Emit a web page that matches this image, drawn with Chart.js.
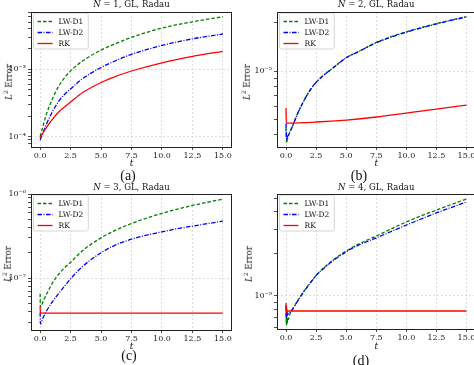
<!DOCTYPE html>
<html>
<head>
<meta charset="utf-8">
<script src="https://cdn.jsdelivr.net/npm/chart.js@4.4.1/dist/chart.umd.min.js"></script>
<style>
  body { margin: 0; width: 474px; height: 365px; overflow: hidden; background: #fff; position: relative; font-family: 'DejaVu Serif', serif; color: #111; }
  canvas { position: absolute; }
  .txt { position: absolute; white-space: nowrap; transform: translate(-50%, -50%); line-height: 1; }
  .ttl { font-size: 8.5px; }
  .xl { font-size: 9px; font-style: italic; }
  .yl { font-size: 8.5px; transform: translate(-50%, -50%) rotate(-90deg); }
  .yl sup { font-size: 6px; }
  .cap { font-family: 'Liberation Serif', serif; font-size: 14px; }
</style>
</head>
<body>
<script>
// valeurs (erreur L2 vs t)
const LABELS = ['LW-D1', 'LW-D2', 'RK'];
const X_TICKS = [0, 2.5, 5, 7.5, 10, 12.5, 15];

// (a) N = 1
const tA = [0, 0.25, 0.5, 1, 1.5, 2, 2.5, 3.5, 5, 6, 7.5, 10, 12.5, 15];
const a_lw1 = [1.0e-4, 1.45e-4, 2.1e-4, 3.6e-4, 5.5e-4, 7.45e-4, 9.45e-4, 1.33e-3, 1.92e-3, 2.31e-3, 2.97e-3, 4.08e-3, 5.05e-3, 6.0e-3];
const a_lw2 = [8.9e-5, 1.15e-4, 1.5e-4, 2.32e-4, 3.29e-4, 4.22e-4, 5.1e-4, 7.27e-4, 1.06e-3, 1.29e-3, 1.66e-3, 2.25e-3, 2.82e-3, 3.33e-3];
const a_rk = [9.5e-5, 1.15e-4, 1.35e-4, 1.8e-4, 2.3e-4, 2.75e-4, 3.25e-4, 4.5e-4, 6.35e-4, 7.58e-4, 9.4e-4, 1.245e-3, 1.545e-3, 1.845e-3];

// (b) N = 2
const tB = [0, 0.05, 0.1, 0.5, 1, 1.5, 2, 2.5, 3, 4, 5, 6, 7.5, 10, 12.5, 15];
const b_lw1 = [4.4e-6, 3.55e-6, 3.7e-6, 4.45e-6, 5.5e-6, 6.55e-6, 7.6e-6, 8.5e-6, 9.24e-6, 1.06e-5, 1.21e-5, 1.32e-5, 1.51e-5, 1.76e-5, 1.98e-5, 2.19e-5];
const b_lw2 = [4.7e-6, 3.75e-6, 3.85e-6, 4.45e-6, 5.5e-6, 6.55e-6, 7.6e-6, 8.5e-6, 9.24e-6, 1.06e-5, 1.21e-5, 1.32e-5, 1.5e-5, 1.75e-5, 1.97e-5, 2.18e-5];
const tB_rk = [0, 0.02, 2.5, 5, 7.5, 10, 12.5, 15];
const b_rk = [5.87e-6, 4.73e-6, 4.8e-6, 4.94e-6, 5.16e-6, 5.46e-6, 5.78e-6, 6.13e-6];

// (c) N = 3
const tC = [0, 0.02, 0.25, 0.5, 1, 1.5, 2, 2.5, 3.5, 5, 6, 7.5, 10, 12.5, 15];
const c_lw1 = [6.5e-8, 4.5e-8, 5.3e-8, 6.3e-8, 8.7e-8, 1.1e-7, 1.32e-7, 1.54e-7, 2.13e-7, 3.01e-7, 3.59e-7, 4.46e-7, 5.89e-7, 7.3e-7, 8.7e-7];
const c_lw2 = [3.9e-8, 2.85e-8, 3.4e-8, 4.0e-8, 5.2e-8, 6.5e-8, 8.0e-8, 9.8e-8, 1.38e-7, 2.0e-7, 2.4e-7, 2.9e-7, 3.55e-7, 4.15e-7, 4.75e-7];
const tC_rk = [0, 0.02, 15];
const c_rk = [4.6e-8, 3.83e-8, 3.83e-8];

// (d) N = 4
const tD = [0, 0.02, 0.04, 0.06, 0.08, 0.1, 0.15, 0.2, 0.3, 0.5, 1, 1.5, 2, 2.5, 3, 4, 5, 6, 7.5, 10, 12.5, 15];
const d_lw1 = [8.3e-10, 6.3e-10, 7.6e-10, 6.2e-10, 7.4e-10, 6.4e-10, 7.0e-10, 6.8e-10, 7.3e-10, 7.9e-10, 9.36e-10, 1.086e-9, 1.239e-9, 1.40e-9, 1.55e-9, 1.83e-9, 2.096e-9, 2.34e-9, 2.68e-9, 3.38e-9, 4.11e-9, 4.93e-9];
const d_lw2 = [8.6e-10, 7.0e-10, 8.2e-10, 7.1e-10, 7.9e-10, 7.2e-10, 7.5e-10, 7.4e-10, 7.6e-10, 7.95e-10, 9.3e-10, 1.08e-9, 1.23e-9, 1.40e-9, 1.54e-9, 1.81e-9, 2.07e-9, 2.3e-9, 2.6e-9, 3.21e-9, 3.92e-9, 4.69e-9];
const tD_rk = [0, 0.02, 0.04, 0.06, 0.1, 15];
const d_rk = [8.9e-10, 7.6e-10, 8.4e-10, 7.8e-10, 7.81e-10, 7.81e-10];

(() => {
  'use strict';

  const STYLE = [
    { color: '#008000', dash: [3.5, 2] },
    { color: '#0000ff', dash: [4.5, 1.5, 1, 1.5] },
    { color: '#ff0000', dash: [] }
  ];
  const SUP = { '-': '\u207b', '0': '\u2070', '1': '\u00b9', '2': '\u00b2', '3': '\u00b3', '4': '\u2074', '5': '\u2075', '6': '\u2076', '7': '\u2077', '8': '\u2078', '9': '\u2079' };
  const pow10 = v => '10' + String(Math.round(Math.log10(v))).split('').map(c => SUP[c]).join('');

  // mise en page : canvas [x, y, w, h] et zone de tracé [l, t, r, b] en px de la page
  const panels = [
    { N: 1, cap: '(a)', box: [0, 0, 237, 182], plot: [31, 12, 232, 147], yMin: 7.46e-5, yMax: 7.06e-3, decades: [-5, -4, -3],
      series: [[tA, a_lw1], [tA, a_lw2], [tA, a_rk]], titleY: 4, xlY: 163, capX: 128, capY: 176, ylX: 7.5 },
    { N: 2, cap: '(b)', box: [237, 0, 243, 182], plot: [277, 12, 475.5, 147], yMin: 3.35e-6, yMax: 2.34e-5, decades: [-6, -5],
      series: [[tB, b_lw1], [tB, b_lw2], [tB_rk, b_rk]], titleY: 4, xlY: 163, capX: 359, capY: 176, ylX: 246 },
    { N: 3, cap: '(c)', box: [0, 182, 237, 183], plot: [31, 194, 232, 330], yMin: 2.41e-8, yMax: 1.0e-6, decades: [-8, -7, -6],
      series: [[tC, c_lw1], [tC, c_lw2], [tC_rk, c_rk]], titleY: 187, xlY: 346, capX: 129, capY: 356, ylX: 7 },
    { N: 4, cap: '(d)', box: [237, 182, 243, 183], plot: [277, 194, 475.5, 329], yMin: 5.81e-10, yMax: 5.35e-9, decades: [-10, -9],
      series: [[tD, d_lw1], [tD, d_lw2], [tD_rk, d_rk]], titleY: 187, xlY: 346, capX: 361, capY: 361, ylX: 248 }
  ];

  function addText(cls, html, x, y) {
    const d = document.createElement('div');
    d.className = 'txt ' + cls;
    d.innerHTML = html;
    d.style.left = x + 'px';
    d.style.top = y + 'px';
    document.body.appendChild(d);
  }

  const framePlugin = {
    id: 'frameLegend',
    afterDatasetsDraw(chart) {
      const { ctx, chartArea: a } = chart;
      // légende en haut à gauche
      ctx.save();
      ctx.font = '7.5px "DejaVu Serif"';
      const tw = Math.max(...LABELS.map(l => ctx.measureText(l).width));
      const bx = a.left + 2.5, by = a.top + 1, bw = 4 + 15 + 6 + tw + 5, bh = 36;
      ctx.beginPath();
      ctx.roundRect(bx, by, bw, bh, 2);
      ctx.fillStyle = 'rgba(255,255,255,0.85)';
      ctx.fill();
      ctx.strokeStyle = '#cccccc';
      ctx.lineWidth = 0.8;
      ctx.stroke();
      LABELS.forEach((l, i) => {
        const yy = by + 8.5 + i * 11;
        ctx.beginPath();
        ctx.setLineDash(STYLE[i].dash);
        ctx.strokeStyle = STYLE[i].color;
        ctx.lineWidth = 1.3;
        ctx.moveTo(bx + 4, yy);
        ctx.lineTo(bx + 19, yy);
        ctx.stroke();
        ctx.setLineDash([]);
        ctx.fillStyle = '#111';
        ctx.textBaseline = 'middle';
        ctx.fillText(l, bx + 25, yy + 0.5);
      });
      ctx.restore();
    },
    afterDraw(chart) {
      const { ctx, chartArea: a } = chart;
      ctx.save();
      ctx.strokeStyle = '#222';
      ctx.lineWidth = 1;
      ctx.strokeRect(Math.round(a.left) + 0.5, Math.round(a.top) + 0.5, Math.round(a.right - a.left) - 1, Math.round(a.bottom - a.top));
      ctx.restore();
    }
  };

  panels.forEach(p => {
    const [bx, by, bw, bh] = p.box;
    const [pl, pt, pr, pb] = p.plot;
    const cv = document.createElement('canvas');
    cv.width = bw; cv.height = bh;
    cv.style.left = bx + 'px'; cv.style.top = by + 'px';
    cv.style.width = bw + 'px'; cv.style.height = bh + 'px';
    document.body.appendChild(cv);

    const majors = p.decades.map(e => Math.pow(10, e)).filter(v => v >= p.yMin && v <= p.yMax * 1.0001);
    const minors = [];
    p.decades.forEach(e => { for (let k = 2; k <= 9; k++) { const v = k * Math.pow(10, e); if (v >= p.yMin && v <= p.yMax) minors.push(v); } });

    new Chart(cv, {
      type: 'line',
      data: {
        datasets: p.series.map(([ts, vs], i) => ({
          label: LABELS[i],
          data: ts.map((t, k) => ({ x: t, y: vs[k] })),
          borderColor: STYLE[i].color,
          borderDash: STYLE[i].dash,
          borderWidth: 1.3,
          pointRadius: 0,
          cubicInterpolationMode: 'monotone',
          fill: false,
          order: 3 - i
        }))
      },
      options: {
        responsive: false,
        animation: false,
        devicePixelRatio: 1,
        layout: { padding: { top: pt - by, right: bx + bw - pr, left: 0, bottom: 0 } },
        plugins: { legend: { display: false }, tooltip: { enabled: false } },
        scales: {
          x: {
            type: 'linear', min: -0.75, max: 15.75,
            afterBuildTicks: s => { s.ticks = X_TICKS.map(v => ({ value: v })); },
            afterFit: s => { s.height = by + bh - pb; s.paddingLeft = 0; s.paddingRight = 0; },
            ticks: { autoSkip: false, maxRotation: 0, padding: 1, color: '#222', font: { family: 'DejaVu Serif', size: 8 }, callback: v => Number(v).toFixed(1) },
            grid: { color: '#d4d4d4', lineWidth: 0.8, tickColor: '#222', tickLength: 3 },
            border: { display: false, dash: [2, 2] }
          },
          y: {
            type: 'logarithmic', min: p.yMin, max: p.yMax,
            afterBuildTicks: s => {
              s.ticks = majors.map(v => ({ value: v, major: true })).concat(minors.map(v => ({ value: v, major: false })))
                .sort((u, w) => u.value - w.value);
            },
            afterFit: s => { s.width = pl - bx; s.paddingTop = 0; s.paddingBottom = 0; },
            ticks: {
              autoSkip: false, padding: 2, color: '#222', font: { family: 'DejaVu Serif', size: 8 },
              callback: (v, i, ticks) => (ticks[i] && ticks[i].major ? pow10(v) : '')
            },
            grid: {
              color: c => (c.tick && c.tick.major ? '#d4d4d4' : 'rgba(0,0,0,0)'),
              lineWidth: 0.8, tickColor: '#222', tickLength: 3
            },
            border: { display: false, dash: [2, 2] }
          }
        }
      },
      plugins: [framePlugin]
    });

    const cx = (pl + pr) / 2;
    addText('ttl', '<i>N</i> = ' + p.N + ', GL, Radau', cx, p.titleY);
    addText('xl', 't', cx, p.xlY);
    addText('cap', p.cap, p.capX, p.capY);
    addText('yl', '<i>L</i><sup>2</sup> Error', p.ylX, (pt + pb) / 2 + 2);
  });
})();
</script>
</body>
</html>
